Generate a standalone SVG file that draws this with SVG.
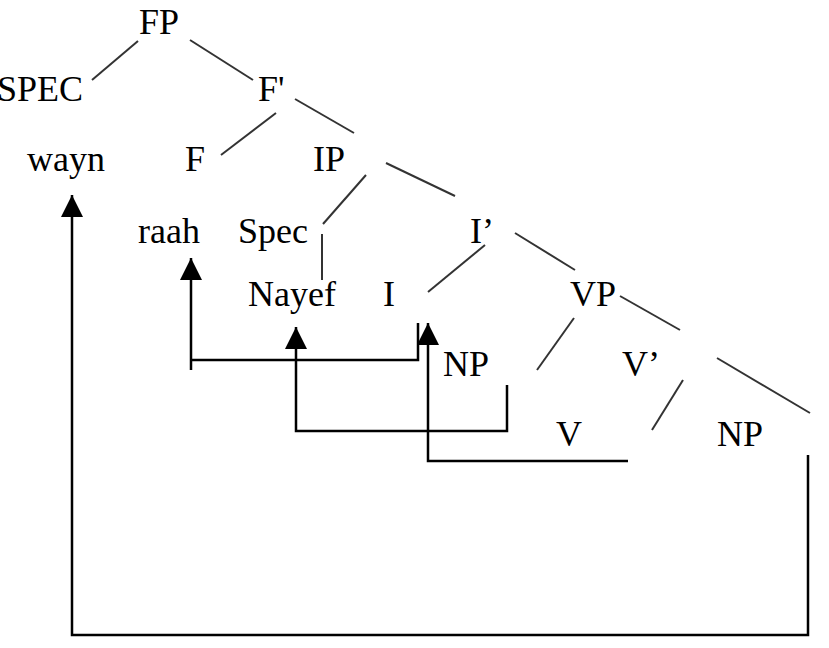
<svg xmlns="http://www.w3.org/2000/svg" width="829" height="648" viewBox="0 0 829 648">
<style>
text{font-family:"Liberation Serif","Times New Roman",serif;font-size:36px;fill:#000}
.e line{stroke:#333;stroke-width:2}
.m path{fill:none;stroke:#000;stroke-width:2.5}
</style>
<defs>
<marker id="b" viewBox="0 0 10 10" refX="10" refY="5" markerWidth="22" markerHeight="22" orient="auto-start-reverse" markerUnits="userSpaceOnUse"><path d="M0,0 L10,5 L0,10 Z" fill="#000"/></marker></defs>
<rect width="829" height="648" fill="#fff"/>
<g id="FP"><text x="139" y="34">FP</text></g>
<g id="SPEC"><text x="-3" y="101">SPEC</text></g>
<g id="Fbar"><text x="258" y="101">F'</text></g>
<g id="wayn"><text x="27" y="171">wayn</text></g>
<g id="F"><text x="185" y="171">F</text></g>
<g id="IP"><text x="313" y="171">IP</text></g>
<g id="raah"><text x="138" y="243">raah</text></g>
<g id="Spec"><text x="238" y="243">Spec</text></g>
<g id="Ibar"><text x="470" y="243">I’</text></g>
<g id="Nayef"><text x="248" y="306">Nayef</text></g>
<g id="I"><text x="383" y="306">I</text></g>
<g id="VP"><text x="570" y="306">VP</text></g>
<g id="NP1"><text x="443" y="376">NP</text></g>
<g id="Vbar"><text x="622" y="376">V’</text></g>
<g id="V"><text x="556" y="446">V</text></g>
<g id="NP2"><text x="717" y="446">NP</text></g>
<g id="connectors">
<g class="e">
<line x1="138" y1="41" x2="92" y2="80"/>
<line x1="190" y1="40" x2="253" y2="80"/>
<line x1="276" y1="113" x2="221" y2="155"/>
<line x1="295" y1="99" x2="354" y2="133"/>
<line x1="366" y1="175" x2="323" y2="224"/>
<line x1="386" y1="163" x2="455" y2="196"/>
<line x1="322" y1="234" x2="322" y2="280"/>
<line x1="485" y1="245" x2="428" y2="292"/>
<line x1="515" y1="233" x2="575" y2="270"/>
<line x1="574" y1="318" x2="537" y2="370"/>
<line x1="620" y1="296" x2="680" y2="330"/>
<line x1="683" y1="380" x2="652" y2="430"/>
<line x1="717" y1="358" x2="810" y2="413"/>
</g>
<g class="m">
<path d="M808,455 V635 H72 V195" marker-end="url(#b)"/>
<path d="M418,323 V360 H191 V370 M191,368 V258" marker-end="url(#b)"/>
<path d="M507,385 V431 H296 V327" marker-end="url(#b)"/>
<path d="M628,461 H428 V323" marker-end="url(#b)"/>
</g>
</g>
</svg>
